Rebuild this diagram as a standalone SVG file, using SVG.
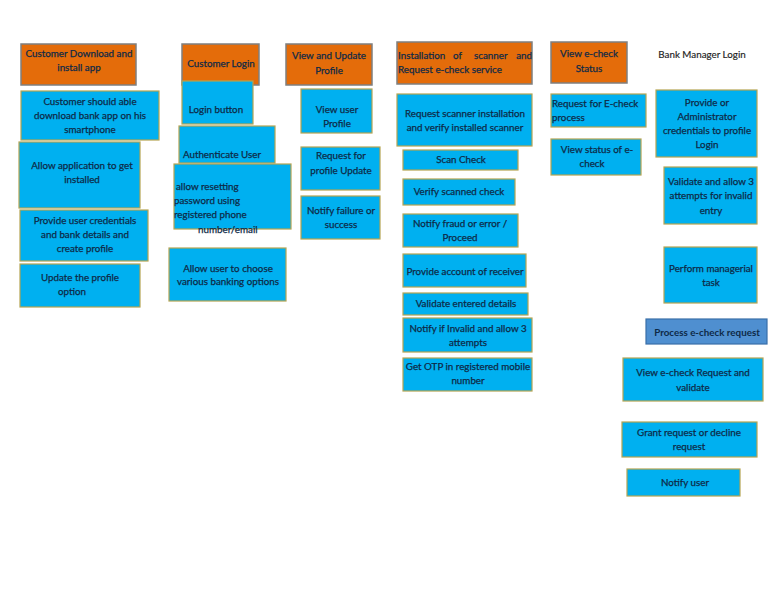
<svg xmlns="http://www.w3.org/2000/svg" width="768" height="594" viewBox="0 0 768 594">
<style>
.o{fill:#E46C0A;stroke:#7F7F7F;stroke-width:1.5}
.b{fill:#00B0F0;stroke:#B5A451;stroke-width:1.2}
.p{fill:#4F8FD0;stroke:#3A6FA8;stroke-width:1.2}
text{font-family:Lato,"Open Sans","Liberation Sans",sans-serif;font-size:9.8px;fill:#0E2A47;stroke:#0E2A47;stroke-width:0.25;text-anchor:middle}
.l{text-anchor:start}
.e{text-anchor:end}
.k{fill:#222222;stroke:#222222}
.bd{font-weight:bold;stroke-width:0}
</style>
<rect width="768" height="594" fill="#FFFFFF"/>
<g id="connectors"/>
<g id="n1"><rect class="o" x="21" y="44" width="115" height="41"/><text x="79" y="57">Customer Download and</text><text x="79" y="71">install app</text></g>
<g id="n2"><rect class="b" x="21" y="91" width="138" height="49"/><text x="90" y="105">Customer should able</text><text x="90" y="119">download bank app on his</text><text x="90" y="133">smartphone</text></g>
<g id="n3"><rect class="b" x="19" y="142" width="121" height="66"/><text x="82" y="169">Allow application to get</text><text x="82" y="183">installed</text></g>
<g id="n4"><rect class="b" x="20" y="210" width="128" height="51"/><text x="85" y="224">Provide user credentials</text><text x="85" y="238">and bank details and</text><text x="85" y="252">create profile</text></g>
<g id="n5"><rect class="b" x="20" y="264" width="120" height="43"/><text x="80" y="281">Update the profile</text><text x="72" y="295">option</text></g>
<g id="n6"><rect class="o" x="182" y="44" width="77" height="41"/><text x="221" y="67">Customer Login</text></g>
<g id="n7"><rect class="b" x="182" y="81" width="71" height="43"/><text x="216" y="113">Login  button</text></g>
<g id="n8"><rect class="b" x="179" y="126" width="96" height="37"/><text x="222" y="158">Authenticate User</text></g>
<g id="n9"><rect class="b" x="174" y="164" width="117" height="65"/><text class="l" x="176" y="190">allow resetting</text><text class="l" x="174" y="204">password using</text><text class="l" x="174" y="218">registered phone</text><text class="l" x="198" y="233">number/email</text></g>
<g id="n10"><rect class="b" x="169" y="248" width="117" height="53"/><text x="228" y="272">Allow user to choose</text><text x="228" y="285">various banking options</text></g>
<g id="n11"><rect class="o" x="286" y="44" width="86" height="41"/><text x="329" y="59">View and Update</text><text x="329" y="74">Profile</text></g>
<g id="n12"><rect class="b" x="301" y="89" width="71" height="44"/><text x="337" y="113">View user</text><text x="337" y="127">Profile</text></g>
<g id="n13"><rect class="b" x="301" y="147" width="79" height="43"/><text x="341" y="159">Request for</text><text x="341" y="174">profile Update</text></g>
<g id="n14"><rect class="b" x="301" y="196" width="79" height="43"/><text x="341" y="214">Notify failure or</text><text x="341" y="228">success</text></g>
<g id="n15"><rect class="o" x="397" y="42" width="135" height="42"/><text class="l" x="398" y="59">Installation</text><text class="l" x="453" y="59">of</text><text class="l" x="474" y="59">scanner</text><text class="e" x="532" y="59">and</text><text class="l" x="398" y="73">Request e-check service</text></g>
<g id="n16"><rect class="b" x="397" y="94" width="135" height="52"/><text x="465" y="117">Request scanner installation</text><text x="465" y="131">and verify installed scanner</text></g>
<g id="n17"><rect class="b" x="403" y="150" width="115" height="20"/><text x="461" y="163">Scan Check</text></g>
<g id="n18"><rect class="b" x="403" y="179" width="112" height="26"/><text x="459" y="195">Verify scanned check</text></g>
<g id="n19"><rect class="b" x="403" y="214" width="115" height="33"/><text x="460" y="227">Notify fraud or error /</text><text x="460" y="241">Proceed</text></g>
<g id="n20"><rect class="b" x="403" y="254" width="123" height="33"/><text x="465" y="275">Provide account of receiver</text></g>
<g id="n21"><rect class="b" x="403" y="293" width="125" height="22"/><text x="466" y="307">Validate entered details</text></g>
<g id="n22"><rect class="b" x="403" y="318" width="129" height="34"/><text x="468" y="332">Notify if Invalid and allow 3</text><text x="468" y="346">attempts</text></g>
<g id="n23"><rect class="b" x="403" y="358" width="129" height="33"/><text x="468" y="370">Get OTP in registered mobile</text><text x="468" y="384">number</text></g>
<g id="n24"><rect class="o" x="551" y="42" width="76" height="41"/><text x="589" y="57">View e-check</text><text x="589" y="72">Status</text></g>
<g id="n25"><rect class="b" x="551" y="94" width="95" height="33"/><text class="l" x="552" y="107">Request for E-check</text><text class="l" x="552" y="121">process</text></g>
<g id="n26"><rect class="b" x="551" y="139" width="90" height="36"/><text x="597" y="153">View status of e-</text><text x="592" y="167">check</text></g>
<g id="n27"><text class="k" x="702" y="58" style="stroke-width:0.15">Bank Manager Login</text></g>
<g id="n28"><rect class="b" x="656" y="90" width="101" height="67"/><text x="707" y="106">Provide or</text><text x="707" y="120">Administrator</text><text x="707" y="134">credentials to profile</text><text x="707" y="148">Login</text></g>
<g id="n29"><rect class="b" x="664" y="167" width="93" height="57"/><text x="711" y="185">Validate and allow 3</text><text x="711" y="199">attempts for invalid</text><text x="711" y="214">entry</text></g>
<g id="n30"><rect class="b" x="664" y="247" width="93" height="56"/><text x="711" y="272">Perform managerial</text><text x="711" y="286">task</text></g>
<g id="n31"><rect class="p" x="646" y="319" width="121" height="25"/><text class="bd" x="707" y="336">Process e-check request</text></g>
<g id="n32"><rect class="b" x="623" y="358" width="140" height="43"/><text x="693" y="376">View e-check Request and</text><text x="693" y="391">validate</text></g>
<g id="n33"><rect class="b" x="622" y="422" width="135" height="35"/><text x="689" y="436">Grant request or decline</text><text x="689" y="450">request</text></g>
<g id="n34"><rect class="b" x="627" y="469" width="113" height="27"/><text x="685" y="486">Notify user</text></g>
</svg>
